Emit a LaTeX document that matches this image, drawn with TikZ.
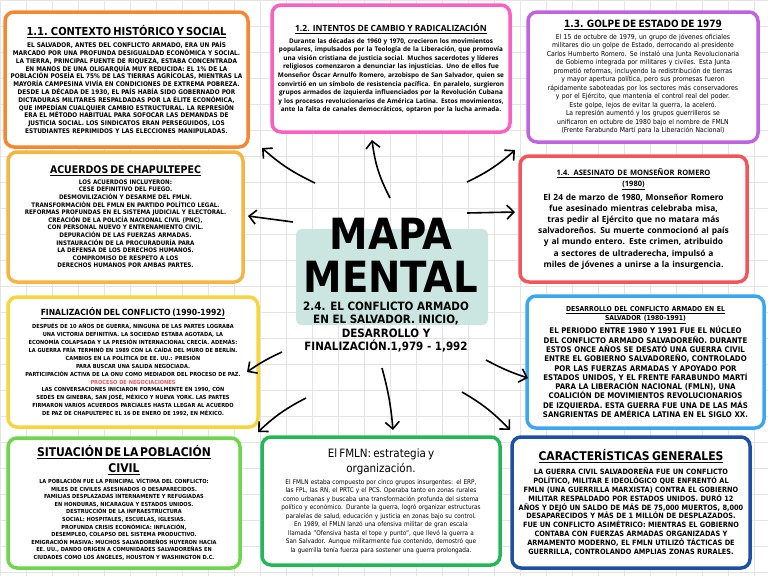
\documentclass[tikz,border=0pt]{standalone}
\usepackage{fontspec}
\usetikzlibrary{arrows.meta}
\setmainfont{DejaVu Sans Condensed}
\newfontfamily\boldf{Open Sans}
\hyphenpenalty=10000
\exhyphenpenalty=10000
\definecolor{cOrange}{HTML}{F7862F}
\definecolor{cPink}{HTML}{FB5FC0}
\definecolor{cPurple}{HTML}{C063E0}
\definecolor{cAmber}{HTML}{F7B43F}
\definecolor{cRed}{HTML}{F4555B}
\definecolor{cYellow}{HTML}{F8D43D}
\definecolor{cSky}{HTML}{3AA8F0}
\definecolor{cLime}{HTML}{6ED64A}
\definecolor{cGreen}{HTML}{22B857}
\definecolor{cNavy}{HTML}{1D4FA6}
\definecolor{cTeal}{HTML}{CBE6E1}
\definecolor{cGrid}{HTML}{E4E4E4}
\tikzset{
  box/.style={draw, line width=3.5pt, rounded corners=9pt, fill=white, align=center, inner sep=3pt},
  arr/.style={line width=1.6pt, -{Straight Barb[length=7pt,width=14pt]}},
}
\newcommand{\fs}[2]{\fontsize{#1pt}{#2pt}\selectfont}
\newcommand{\ttl}[2]{{\fontsize{#1pt}{#1pt}\selectfont\bfseries #2}}
\begin{document}
\begin{tikzpicture}[x=1pt,y=-1pt]
\useasboundingbox (0,0) rectangle (768,576);
\fill[white] (0,0) rectangle (768,576);
\draw[cGrid, line width=0.5pt, step=26pt] (0,0) grid (768,576);

% centre
\fill[cTeal, rounded corners=6pt] (296,229) rectangle (488,325);
\node[font=\bfseries\fs{43}{43}] (mapa) at (391,234) {MAPA};
\node[font=\bfseries\fs{43}{43}] (mental) at (391,277) {MENTAL};
\node[align=center, font=\bfseries\fs{11.5}{13.3}] (sub) at (386,327) {2.4. EL CONFLICTO ARMADO\\EN EL SALVADOR. INICIO,\\DESARROLLO Y\\FINALIZACIÓN.1,979 - 1,992};

% boxes
\node[box, draw=cOrange, minimum width=243pt, minimum height=135pt, text width=234pt, font=\bfseries\fs{6.4}{7.8}] (b11) at (126.5,79.5) {\underline{\ttl{11}{1.1. CONTEXTO HISTÓRICO Y SOCIAL}}\\[3pt]
EL SALVADOR, ANTES DEL CONFLICTO ARMADO, ERA UN PAÍS MARCADO POR UNA PROFUNDA DESIGUALDAD ECONÓMICA Y SOCIAL. LA TIERRA, PRINCIPAL FUENTE DE RIQUEZA, ESTABA CONCENTRADA EN MANOS DE UNA OLIGARQUÍA MUY REDUCIDA: EL 1\% DE LA POBLACIÓN POSEÍA EL 75\% DE LAS TIERRAS AGRÍCOLAS, MIENTRAS LA MAYORÍA CAMPESINA VIVÍA EN CONDICIONES DE EXTREMA POBREZA.\\ DESDE LA DÉCADA DE 1930, EL PAÍS HABÍA SIDO GOBERNADO POR DICTADURAS MILITARES RESPALDADAS POR LA ÉLITE ECONÓMICA, QUE IMPEDÍAN CUALQUIER CAMBIO ESTRUCTURAL. LA REPRESIÓN ERA EL MÉTODO HABITUAL PARA SOFOCAR LAS DEMANDAS DE JUSTICIA SOCIAL. LOS SINDICATOS ERAN PERSEGUIDOS, LOS ESTUDIANTES REPRIMIDOS Y LAS ELECCIONES MANIPULADAS.};

\node[box, draw=cPink, minimum width=238pt, minimum height=127pt, text width=230pt, font=\boldf\bfseries\fs{6.4}{8.6}] (b12) at (391,68.5) {\underline{\ttl{8.5}{1.2. INTENTOS DE CAMBIO Y RADICALIZACIÓN}}\\[3pt]
Durante las décadas de 1960 y 1970, crecieron los movimientos populares, impulsados por la Teología de la Liberación, que promovía una visión cristiana de justicia social. Muchos sacerdotes y líderes religiosos comenzaron a denunciar las injusticias. Uno de ellos fue Monseñor Óscar Arnulfo Romero, arzobispo de San Salvador, quien se convirtió en un símbolo de resistencia pacífica. En paralelo, surgieron grupos armados de izquierda influenciados por la Revolución Cubana y los procesos revolucionarios de América Latina. Estos movimientos, ante la falta de canales democráticos, optaron por la lucha armada.};

\node[box, draw=cPurple, minimum width=230pt, minimum height=130pt, text width=215pt, font=\fs{6.8}{8.5}] (b13) at (643,77) {\underline{\ttl{10}{1.3. GOLPE DE ESTADO DE 1979}}\\[3pt]
El 15 de octubre de 1979, un grupo de jóvenes oficiales militares dio un golpe de Estado, derrocando al presidente Carlos Humberto Romero. Se instaló una Junta Revolucionaria de Gobierno integrada por militares y civiles. Esta Junta prometió reformas, incluyendo la redistribución de tierras y mayor apertura política, pero sus promesas fueron rápidamente saboteadas por los sectores más conservadores y por el Ejército, que mantenía el control real del poder.\\ Este golpe, lejos de evitar la guerra, la aceleró. La represión aumentó y los grupos guerrilleros se unificaron en octubre de 1980 bajo el nombre de FMLN (Frente Farabundo Martí para la Liberación Nacional)};

\node[box, draw=cAmber, minimum width=235pt, minimum height=130pt, text width=218pt, font=\bfseries\fs{6.2}{7.6}] (bac) at (125.5,217) {\underline{\ttl{10.5}{ACUERDOS DE CHAPULTEPEC}}\\[3pt]
LOS ACUERDOS INCLUYERON:\\ CESE DEFINITIVO DEL FUEGO.\\ DESMOVILIZACIÓN Y DESARME DEL FMLN.\\ TRANSFORMACIÓN DEL FMLN EN PARTIDO POLÍTICO LEGAL.\\ REFORMAS PROFUNDAS EN EL SISTEMA JUDICIAL Y ELECTORAL.\\ CREACIÓN DE LA POLICÍA NACIONAL CIVIL (PNC), CON PERSONAL NUEVO Y ENTRENAMIENTO CIVIL.\\ DEPURACIÓN DE LAS FUERZAS ARMADAS.\\ INSTAURACIÓN DE LA PROCURADURÍA PARA LA DEFENSA DE LOS DERECHOS HUMANOS.\\ COMPROMISO DE RESPETO A LOS DERECHOS HUMANOS POR AMBAS PARTES.};

\node[box, draw=cRed, minimum width=227pt, minimum height=126pt, text width=205pt, font=\boldf\bfseries\fs{8.4}{11.2}] (b14) at (633.5,219) {\underline{\ttl{7.5}{1.4. ASESINATO DE MONSEÑOR ROMERO}}\\ \underline{\ttl{7.5}{(1980)}}\\[2pt]
El 24 de marzo de 1980, Monseñor Romero fue asesinado mientras celebraba misa, tras pedir al Ejército que no matara más salvadoreños. Su muerte conmocionó al país y al mundo entero. Este crimen, atribuido a sectores de ultraderecha, impulsó a miles de jóvenes a unirse a la insurgencia.};

\node[box, draw=cYellow, minimum width=250pt, minimum height=130pt, text width=242pt, font=\bfseries\fs{5.6}{7.9}] (bfin) at (133,362) {\underline{\ttl{8.5}{FINALIZACIÓN DEL CONFLICTO (1990-1992)}}\\[4pt]
DESPUÉS DE 10 AÑOS DE GUERRA, NINGUNA DE LAS PARTES LOGRABA UNA VICTORIA DEFINITIVA. LA SOCIEDAD ESTABA AGOTADA, LA ECONOMÍA COLAPSADA Y LA PRESIÓN INTERNACIONAL CRECÍA. ADEMÁS:\\ LA GUERRA FRÍA TERMINÓ EN 1989 CON LA CAÍDA DEL MURO DE BERLÍN.\\ CAMBIOS EN LA POLÍTICA DE EE. UU.: PRESIÓN PARA BUSCAR UNA SALIDA NEGOCIADA.\\ PARTICIPACIÓN ACTIVA DE LA ONU COMO MEDIADOR DEL PROCESO DE PAZ.\\ \textcolor{cRed}{PROCESO DE NEGOCIACIONES}\\ LAS CONVERSACIONES INICIARON FORMALMENTE EN 1990, CON SEDES EN GINEBRA, SAN JOSÉ, MÉXICO Y NUEVA YORK. LAS PARTES FIRMARON VARIOS ACUERDOS PARCIALES HASTA LLEGAR AL ACUERDO DE PAZ DE CHAPULTEPEC EL 16 DE ENERO DE 1992, EN MÉXICO.};

\node[box, draw=cSky, minimum width=237pt, minimum height=132pt, text width=216pt, font=\bfseries\fs{7.8}{9.3}] (bdes) at (645.5,362) {\underline{\ttl{6.8}{DESARROLLO DEL CONFLICTO ARMADO EN EL}}\\ \underline{\ttl{6.8}{SALVADOR (1980-1991)}}\\[2pt]
EL PERIODO ENTRE 1980 Y 1991 FUE EL NÚCLEO DEL CONFLICTO ARMADO SALVADOREÑO. DURANTE ESTOS ONCE AÑOS SE DESATÓ UNA GUERRA CIVIL ENTRE EL GOBIERNO SALVADOREÑO, CONTROLADO POR LAS FUERZAS ARMADAS Y APOYADO POR ESTADOS UNIDOS, Y EL FRENTE FARABUNDO MARTÍ PARA LA LIBERACIÓN NACIONAL (FMLN), UNA COALICIÓN DE MOVIMIENTOS REVOLUCIONARIOS DE IZQUIERDA. ESTA GUERRA FUE UNA DE LAS MÁS SANGRIENTAS DE AMÉRICA LATINA EN EL SIGLO XX.};

\node[box, draw=cLime, minimum width=232pt, minimum height=130pt, text width=226pt, font=\bfseries\fs{5.6}{7.6}] (bsit) at (124,503) {\underline{\ttl{12}{SITUACIÓN DE LA POBLACIÓN}}\\[4pt] \underline{\ttl{12}{CIVIL}}\\[3pt]
LA POBLACIÓN FUE LA PRINCIPAL VÍCTIMA DEL CONFLICTO: MILES DE CIVILES ASESINADOS O DESAPARECIDOS.\\ FAMILIAS DESPLAZADAS INTERNAMENTE Y REFUGIADAS EN HONDURAS, NICARAGUA Y ESTADOS UNIDOS.\\ DESTRUCCIÓN DE LA INFRAESTRUCTURA SOCIAL: HOSPITALES, ESCUELAS, IGLESIAS.\\ PROFUNDA CRISIS ECONÓMICA: INFLACIÓN, DESEMPLEO, COLAPSO DEL SISTEMA PRODUCTIVO.\\ EMIGRACIÓN MASIVA: MUCHOS SALVADOREÑOS HUYERON HACIA EE. UU., DANDO ORIGEN A COMUNIDADES SALVADOREÑAS EN CIUDADES COMO LOS ÁNGELES, HOUSTON Y WASHINGTON D.C.};

\node[box, draw=cGreen, minimum width=238pt, minimum height=128pt, text width=226pt, font=\fs{6.4}{8.5}] (bfm) at (381,501) {{\fs{11.5}{14}El FMLN: estrategia y\\[3pt] organización.}\\[3pt]
El FMLN estaba compuesto por cinco grupos insurgentes: el ERP, las FPL, las RN, el PRTC y el PCS. Operaba tanto en zonas rurales como urbanas y buscaba una transformación profunda del sistema político y económico. Durante la guerra, logró organizar estructuras paralelas de salud, educación y justicia en zonas bajo su control.\\ En 1989, el FMLN lanzó una ofensiva militar de gran escala llamada "Ofensiva hasta el tope y punto", que llevó la guerra a San Salvador. Aunque militarmente fue contenido, demostró que la guerrilla tenía fuerza para sostener una guerra prolongada.};

\node[box, draw=cNavy, minimum width=238pt, minimum height=131pt, text width=226pt, font=\bfseries\fs{7.3}{8.8}] (bcar) at (631,502.5) {\underline{\ttl{12}{CARACTERÍSTICAS GENERALES}}\\[4pt]
LA GUERRA CIVIL SALVADOREÑA FUE UN CONFLICTO POLÍTICO, MILITAR E IDEOLÓGICO QUE ENFRENTÓ AL FMLN (UNA GUERRILLA MARXISTA) CONTRA EL GOBIERNO MILITAR RESPALDADO POR ESTADOS UNIDOS. DURÓ 12 AÑOS Y DEJÓ UN SALDO DE MÁS DE 75,000 MUERTOS, 8,000 DESAPARECIDOS Y MÁS DE 1 MILLÓN DE DESPLAZADOS.\\ FUE UN CONFLICTO ASIMÉTRICO: MIENTRAS EL GOBIERNO CONTABA CON FUERZAS ARMADAS ORGANIZADAS Y ARMAMENTO MODERNO, EL FMLN UTILIZÓ TÁCTICAS DE GUERRILLA, CONTROLANDO AMPLIAS ZONAS RURALES.};

% arrows
\coordinate (s1) at (315,183); \coordinate (e1) at (262,148);
\coordinate (s2) at (390,198); \coordinate (e2) at (372,140);
\coordinate (s3) at (467,182); \coordinate (e3) at (515,150);
\coordinate (s4) at (293,222); \coordinate (e4) at (248,216);
\coordinate (s5) at (467,213); \coordinate (e5) at (515,212);
\coordinate (s6) at (282,352); \coordinate (e6) at (247,372);
\coordinate (s7) at (306,398); \coordinate (e7) at (258,432);
\coordinate (s8) at (382,368); \coordinate (e8) at (393,430);
\coordinate (s9) at (462,392); \coordinate (e9) at (510,430);
\coordinate (s10) at (486,360); \coordinate (e10) at (528,378);
\draw[arr] (s1) to[bend left=8] (e1);
\draw[arr] (s2) to[bend left=10] (e2);
\draw[arr] (s3) to[bend right=8] (e3);
\draw[arr] (s4) to (e4);
\draw[arr] (s5) to (e5);
\draw[arr] (s6) to[bend right=5] (e6);
\draw[arr] (s7) to[bend right=8] (e7);
\draw[arr] (s8) to[bend left=5] (e8);
\draw[arr] (s9) to[bend left=8] (e9);
\draw[arr] (s10) to[bend right=5] (e10);
\end{tikzpicture}
\end{document}
